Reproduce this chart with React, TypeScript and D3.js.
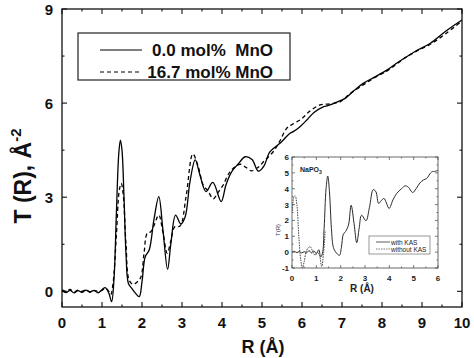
import * as d3 from "d3";
import * as React from "react";

// T(R) curves, main panel
const rSolid = [0, 0.1, 0.2, 0.3, 0.4, 0.5, 0.6, 0.7, 0.8, 0.9, 1.0, 1.08, 1.17, 1.24, 1.3, 1.36, 1.42, 1.46, 1.5, 1.55, 1.6, 1.66, 1.74, 1.83, 1.93, 2.0, 2.08, 2.18, 2.3, 2.42, 2.52, 2.64, 2.72, 2.84, 2.97, 3.08, 3.2, 3.33, 3.45, 3.6, 3.77, 3.98, 4.1, 4.24, 4.4, 4.58, 4.75, 4.91, 5.05, 5.2, 5.45, 5.55, 5.7, 5.78, 5.95, 6.12, 6.3, 6.53, 6.7, 6.9, 7.08, 7.3, 7.53, 7.8, 8.12, 8.4, 8.62, 8.9, 9.2, 9.6, 10.0];
const tSolid = [0.02, -0.04, 0.03, -0.05, 0.02, -0.03, 0.04, -0.02, 0.03, -0.05, 0.05, 0.12, -0.05, -0.33, 0.4, 2.5, 4.4, 4.82, 4.5, 3.0, 1.2, 0.25, 0.1, -0.05, -0.17, 0.3, 1.1, 1.32, 2.3, 3.02, 2.0, 0.7, 1.5, 2.43, 2.15, 2.38, 3.5, 4.19, 3.7, 3.18, 3.47, 2.86, 3.4, 3.81, 4.05, 4.29, 4.2, 3.83, 4.0, 4.45, 4.72, 4.85, 5.04, 5.09, 5.25, 5.46, 5.7, 5.88, 5.94, 6.05, 6.15, 6.4, 6.63, 6.82, 7.05, 7.3, 7.48, 7.7, 7.9, 8.3, 8.65];

const rDashed = [0, 0.1, 0.2, 0.3, 0.4, 0.5, 0.6, 0.7, 0.8, 0.9, 1.0, 1.08, 1.17, 1.22, 1.28, 1.36, 1.43, 1.48, 1.53, 1.6, 1.68, 1.78, 1.88, 1.97, 2.05, 2.13, 2.22, 2.3, 2.42, 2.52, 2.63, 2.72, 2.82, 2.95, 3.1, 3.27, 3.4, 3.53, 3.65, 3.78, 3.9, 4.03, 4.2, 4.45, 4.6, 4.74, 4.9, 5.05, 5.28, 5.45, 5.62, 5.8, 6.0, 6.2, 6.45, 6.7, 6.95, 7.2, 7.53, 7.8, 8.12, 8.4, 8.62, 8.9, 9.2, 9.6, 10.0];
const tDashed = [0.05, 0.0, 0.06, -0.02, 0.04, 0.0, 0.05, -0.03, 0.02, 0.0, 0.03, 0.1, 0.0, -0.1, 0.3, 1.8, 3.2, 3.44, 3.1, 1.5, 0.35, 0.22, 0.3, 0.45, 1.2, 1.85, 1.9, 2.1, 2.43, 1.9, 1.21, 1.6, 2.06, 2.08, 3.0, 4.38, 4.0, 3.39, 3.2, 2.95, 3.15, 3.39, 3.81, 4.05, 3.95, 3.84, 3.95, 4.15, 4.45, 4.8, 5.2, 5.35, 5.51, 5.75, 5.94, 5.98, 6.04, 6.3, 6.58, 6.8, 7.02, 7.28, 7.48, 7.68, 7.87, 8.22, 8.62];

// NaPO3 inset curves
const rWithKas = [0, 0.1, 0.2, 0.3, 0.4, 0.5, 0.6, 0.7, 0.8, 0.9, 1.0, 1.1, 1.18, 1.25, 1.32, 1.4, 1.47, 1.54, 1.62, 1.7, 1.8, 1.95, 2.03, 2.11, 2.2, 2.32, 2.43, 2.55, 2.66, 2.76, 2.86, 3.04, 3.18, 3.34, 3.45, 3.56, 3.67, 3.78, 3.88, 3.99, 4.15, 4.3, 4.5, 4.65, 4.78, 4.96, 5.1, 5.26, 5.4, 5.53, 5.74, 5.9, 6.0];
const tWithKas = [0.0, 0.05, -0.03, 0.04, -0.05, 0.03, -0.04, 0.1, -0.05, 0.08, -0.1, 0.15, -0.3, -0.1, 1.5, 4.0, 4.8, 3.8, 1.5, 0.3, 0.0, -0.2, 0.3, 1.13, 1.3, 1.7, 2.96, 1.8, 0.6, 1.5, 2.33, 1.98, 2.8, 3.95, 3.8, 3.07, 3.25, 3.39, 3.1, 2.75, 3.3, 3.7, 4.0, 4.18, 4.1, 3.76, 4.0, 4.37, 4.55, 4.64, 5.06, 5.1, 5.17];

const rWithoutKas = [0.02, 0.08, 0.13, 0.2, 0.28, 0.36, 0.43, 0.5, 0.6, 0.74, 0.85, 0.95, 1.05, 1.13, 1.22, 1.3, 1.36];
const tWithoutKas = [2.6, 3.5, 3.55, 3.0, 1.0, -0.5, -1.0, -0.6, 0.1, 0.35, 0.05, -0.2, 0.0, -0.2, -0.9, 0.0, 1.3];

const xTicks = [0, 1, 2, 3, 4, 5, 6, 7, 8, 9, 10];
const yTicks = [0, 3, 6, 9];
const insetXTicks = [0, 1, 2, 3, 4, 5, 6];
const insetYTicks = [-1, 0, 1, 2, 3, 4, 5, 6];

const seriesNames = ["0.0 mol%  MnO", "16.7 mol% MnO"];
const insetNames = ["with KAS", "without KAS"];

const font = "'Liberation Sans', Arial, sans-serif";

type Pt = [number, number];
const zip = (r: number[], t: number[]): Pt[] => r.map((v, i) => [v, t[i]]);

export default function App() {
  const width = 474;
  const height = 358;

  // main frame
  const left = 62, right = 462, top = 9, bottom = 307;
  const x = d3.scaleLinear([0, 10], [left, right]);
  const y = d3.scaleLinear([-0.5, 9], [bottom, top]);

  // inset frame
  const iLeft = 292, iRight = 438, iTop = 157, iBottom = 268;
  const ix = d3.scaleLinear([0, 6], [iLeft, iRight]);
  const iy = d3.scaleLinear([-1, 6], [iBottom, iTop]);

  const line = d3
    .line<Pt>()
    .x((d) => x(d[0]))
    .y((d) => y(d[1]))
    .curve(d3.curveCatmullRom.alpha(0.5));
  const insetLine = d3
    .line<Pt>()
    .x((d) => ix(d[0]))
    .y((d) => iy(d[1]))
    .curve(d3.curveCatmullRom.alpha(0.5));

  const xMinor = d3.range(0, 10.01, 0.5);
  const yMinor = d3.range(0, 9.01, 1.5);
  const ixMinor = d3.range(0, 6.01, 0.5);
  const iyMinor = d3.range(-1, 6.01, 0.5);

  return (
    <svg
      width={width}
      height={height}
      viewBox={`0 0 ${width} ${height}`}
      style={{ position: "absolute", left: 0, top: 0, background: "#fff" }}
    >
      <rect width={width} height={height} fill="#fff" />

      {/* main frame ticks */}
      <g stroke="#111" strokeWidth={1.1}>
        {xMinor.map((v) => {
          const len = Number.isInteger(v) ? 5 : 2.5;
          return (
            <g key={"xt" + v}>
              <line x1={x(v)} x2={x(v)} y1={bottom} y2={bottom - len} />
              <line x1={x(v)} x2={x(v)} y1={top} y2={top + len} />
            </g>
          );
        })}
        {yMinor.map((v) => {
          const len = v % 3 === 0 ? 5 : 2.5;
          return (
            <g key={"yt" + v}>
              <line x1={left} x2={left + len} y1={y(v)} y2={y(v)} />
              <line x1={right} x2={right - len} y1={y(v)} y2={y(v)} />
            </g>
          );
        })}
      </g>

      {/* curves */}
      <path d={line(zip(rSolid, tSolid)) ?? ""} fill="none" stroke="#000" strokeWidth={1.3} />
      <path d={line(zip(rDashed, tDashed)) ?? ""} fill="none" stroke="#000" strokeWidth={1.3} strokeDasharray="4,3" />

      <rect x={left} y={top} width={right - left} height={bottom - top} fill="none" stroke="#111" strokeWidth={1.3} />

      {/* tick labels */}
      <g fontFamily={font} fontWeight="bold" fontSize={15} fill="#111">
        {xTicks.map((v) => (
          <text key={"xl" + v} x={x(v)} y={328} textAnchor="middle">
            {v}
          </text>
        ))}
        {yTicks.map((v) => (
          <text key={"yl" + v} x={53} y={y(v) + 5.5} textAnchor="end">
            {v}
          </text>
        ))}
      </g>
      <text x={263} y={353} textAnchor="middle" fontFamily={font} fontWeight="bold" fontSize={18} fill="#111">
        R (Å)
      </text>
      <text
        transform="translate(31,176) rotate(-90)"
        textAnchor="middle"
        fontFamily={font}
        fontWeight="bold"
        fontSize={23}
        fill="#111"
      >
        T (R), Å
        <tspan fontSize={15} dy={-10}>
          -2
        </tspan>
      </text>

      {/* legend */}
      <rect x={78} y={33} width={212} height={47} fill="#fff" stroke="#222" strokeWidth={1.2} />
      <line x1={100} x2={142} y1={50} y2={50} stroke="#000" strokeWidth={1.2} />
      <line x1={100} x2={142} y1={72} y2={72} stroke="#000" strokeWidth={1.2} strokeDasharray="4,3" />
      <g fontFamily={font} fontWeight="bold" fontSize={17} fill="#111" textAnchor="end">
        <text x={273} y={56} style={{ whiteSpace: "pre" }}>
          {seriesNames[0]}
        </text>
        <text x={273} y={78}>
          {seriesNames[1]}
        </text>
      </g>

      {/* inset */}
      <rect x={iLeft} y={iTop} width={iRight - iLeft} height={iBottom - iTop} fill="#fff" />
      <g stroke="#444" strokeWidth={0.7}>
        {ixMinor.map((v) => {
          const len = Number.isInteger(v) ? 3 : 1.5;
          return (
            <g key={"ixt" + v}>
              <line x1={ix(v)} x2={ix(v)} y1={iBottom} y2={iBottom - len} />
              <line x1={ix(v)} x2={ix(v)} y1={iTop} y2={iTop + len} />
            </g>
          );
        })}
        {iyMinor.map((v) => {
          const len = Number.isInteger(v) ? 3 : 1.5;
          return (
            <g key={"iyt" + v}>
              <line x1={iLeft} x2={iLeft + len} y1={iy(v)} y2={iy(v)} />
              <line x1={iRight} x2={iRight - len} y1={iy(v)} y2={iy(v)} />
            </g>
          );
        })}
      </g>
      <path d={insetLine(zip(rWithKas, tWithKas)) ?? ""} fill="none" stroke="#2a2a2a" strokeWidth={1} />
      <path
        d={insetLine(zip(rWithoutKas, tWithoutKas)) ?? ""}
        fill="none"
        stroke="#444"
        strokeWidth={1}
        strokeDasharray="1.5,1"
      />
      <rect x={iLeft} y={iTop} width={iRight - iLeft} height={iBottom - iTop} fill="none" stroke="#444" strokeWidth={0.8} />
      <g fontFamily={font} fontWeight="bold" fontSize={8} fill="#222">
        {insetXTicks.map((v) => (
          <text key={"ixl" + v} x={ix(v)} y={281} textAnchor="middle">
            {v}
          </text>
        ))}
        {insetYTicks.map((v) => (
          <text key={"iyl" + v} x={289} y={iy(v) + 3} textAnchor="end">
            {v}
          </text>
        ))}
      </g>
      <text x={362} y={292} textAnchor="middle" fontFamily={font} fontWeight="bold" fontSize={10} fill="#222">
        R (Å)
      </text>
      <text transform="translate(280,230) rotate(-90)" textAnchor="middle" fontFamily={font} fontSize={6} fill="#333">
        T(R)
      </text>
      <text x={300} y={172} fontFamily={font} fontWeight="bold" fontSize={7} fill="#222">
        NaPO
        <tspan fontSize={5} dy={2}>
          3
        </tspan>
      </text>

      {/* inset legend */}
      <rect x={369} y={236} width={61} height={18} fill="#fff" stroke="#555" strokeWidth={0.6} />
      <line x1={376} x2={390} y1={242} y2={242} stroke="#333" strokeWidth={0.8} />
      <line x1={376} x2={390} y1={249} y2={249} stroke="#555" strokeWidth={0.8} strokeDasharray="1.5,1" />
      <g fontFamily={font} fontSize={6.5} fill="#222">
        <text x={391} y={244.5}>{insetNames[0]}</text>
        <text x={391} y={251.5}>{insetNames[1]}</text>
      </g>
    </svg>
  );
}
